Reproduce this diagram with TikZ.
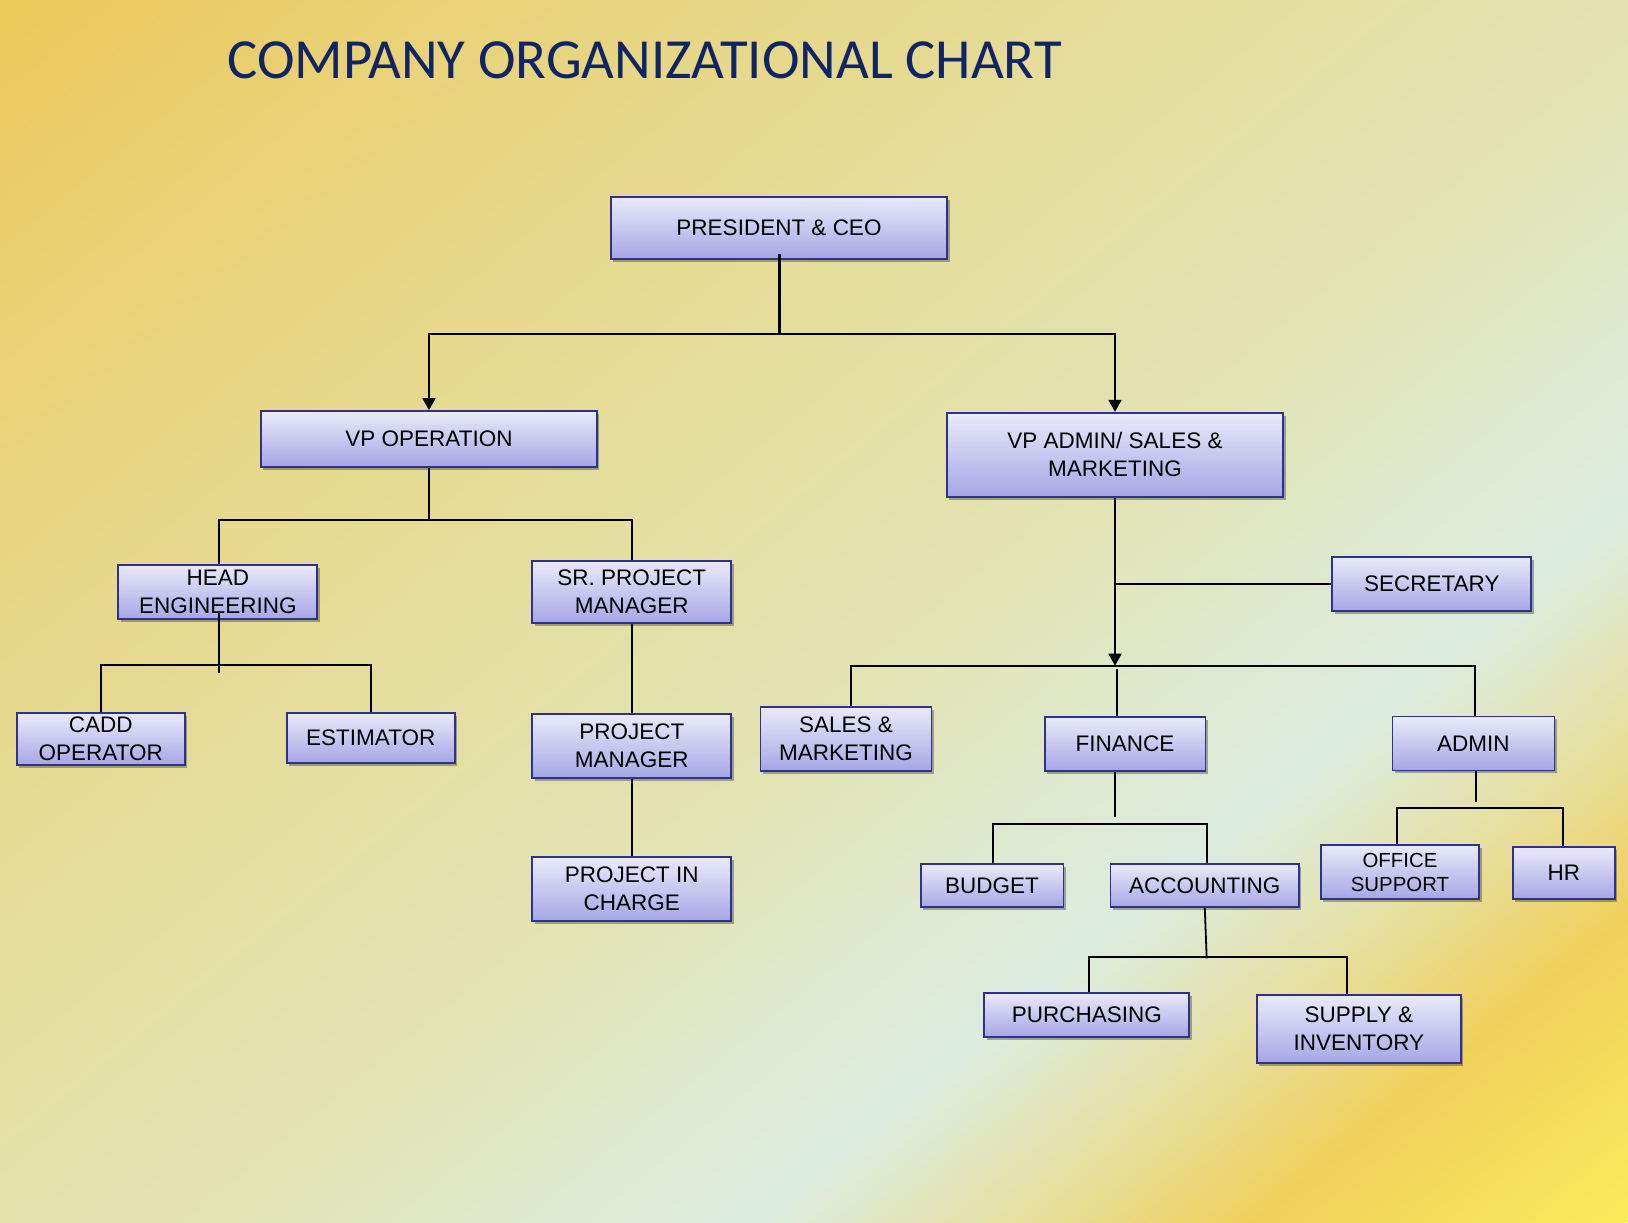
\documentclass[tikz,border=0pt]{standalone}
\usepackage{fontspec}
\setmainfont{Liberation Sans}
\newfontfamily\titlefont{Carlito}
\usetikzlibrary{arrows.meta,shadows}
\definecolor{bgA}{RGB}{237,200,88}
\definecolor{bgB}{RGB}{233,210,120}
\definecolor{bgC}{RGB}{229,220,152}
\definecolor{bgD}{RGB}{226,228,180}
\definecolor{bgE}{RGB}{220,236,224}
\definecolor{bgF}{RGB}{228,226,172}
\definecolor{bgG}{RGB}{240,208,92}
\definecolor{bgH}{RGB}{250,236,90}
\definecolor{titleblue}{RGB}{16,38,100}
\definecolor{boxblue}{RGB}{46,49,146}
\definecolor{boxtop}{RGB}{234,234,250}
\definecolor{boxbot}{RGB}{166,166,230}
\pgfdeclarehorizontalshading{bgshade}{100bp}{color(0bp)=(bgA); color(25bp)=(bgA); color(32.5bp)=(bgB); color(42.5bp)=(bgC); color(52.5bp)=(bgD); color(61bp)=(bgE); color(64.5bp)=(bgF); color(69bp)=(bgG); color(75bp)=(bgH); color(100bp)=(bgH)}
\tikzset{
  orgbox/.style={draw=boxblue, line width=0.9pt, top color=boxtop, bottom color=boxbot,
    align=center, inner sep=0pt, font=\fontsize{11.25}{14}\selectfont,
    drop shadow={shadow xshift=1.2pt, shadow yshift=-1.5pt, opacity=0.3, fill=black}},
  conn/.style={line width=0.9pt, black},
  trunk/.style={line width=1.5pt, black},
  arrowed/.style={-{Triangle[length=6pt,width=6.5pt]}}
}
\begin{document}
\begin{tikzpicture}[x=0.5pt,y=-0.5pt]
\useasboundingbox (0,0) rectangle (1628,1222);
\begin{scope}
\clip (0,0) rectangle (1628,1222);
\begin{scope}[transform canvas={shift={(814,611)},rotate=-50.8}]
\shade[shading=bgshade] (-494pt,-515pt) rectangle (494pt,515pt);
\end{scope}
\end{scope}

\node[anchor=base west, inner sep=0pt, text=titleblue, font=\titlefont\fontsize{28.35}{34}\selectfont] (title) at (227,78.3) {COMPANY ORGANIZATIONAL CHART};

% boxes
\node[orgbox, minimum width=168.3pt, minimum height=31pt] (ceo) at (779,227.7) {PRESIDENT \& CEO};
\node[orgbox, minimum width=168pt, minimum height=27.85pt] (vpop) at (429,438.9) {VP OPERATION};
\node[orgbox, minimum width=168.3pt, minimum height=42pt] (vpadm) at (1115,454.7) {VP ADMIN/ SALES \&\\MARKETING};
\node[orgbox, minimum width=99.5pt, minimum height=27.15pt] (head) at (217.8,591.9) {HEAD\\ENGINEERING};
\node[orgbox, minimum width=99.5pt, minimum height=31.15pt] (srpm) at (631.8,591.9) {SR. PROJECT\\MANAGER};
\node[orgbox, minimum width=99.5pt, minimum height=27.15pt] (sec) at (1431.8,583.9) {SECRETARY};
\node[orgbox, minimum width=84.15pt, minimum height=26.15pt] (cadd) at (100.8,738.9) {CADD\\OPERATOR};
\node[orgbox, minimum width=84.15pt, minimum height=25pt] (est) at (370.8,737.7) {ESTIMATOR};
\node[orgbox, minimum width=99.5pt, minimum height=31.7pt] (pm) at (631.8,746) {PROJECT\\MANAGER};
\node[orgbox, minimum width=85.5pt, minimum height=32.15pt] (sales) at (845.9,738.9) {SALES \&\\MARKETING};
\node[orgbox, minimum width=80.4pt, minimum height=27.15pt] (fin) at (1125,743.9) {FINANCE};
\node[orgbox, minimum width=81pt, minimum height=27pt] (adm) at (1473.4,743.4) {ADMIN};
\node[orgbox, minimum width=99.5pt, minimum height=32.15pt] (pic) at (631.8,888.9) {PROJECT IN\\CHARGE};
\node[orgbox, minimum width=71.4pt, minimum height=21.5pt] (bud) at (992,885.8) {BUDGET};
\node[orgbox, minimum width=94.25pt, minimum height=21.5pt] (acc) at (1204.8,885.8) {ACCOUNTING};
\node[orgbox, minimum width=79.3pt, minimum height=27pt, font=\fontsize{10.2}{12}\selectfont] (off) at (1400,872) {OFFICE\\SUPPORT};
\node[orgbox, minimum width=51.15pt, minimum height=26.15pt] (hr) at (1563.9,872.9) {HR};
\node[orgbox, minimum width=102.5pt, minimum height=22pt] (pur) at (1086.8,1014.7) {PURCHASING};
\node[orgbox, minimum width=102.15pt, minimum height=34.3pt] (sup) at (1358.9,1029) {SUPPLY \&\\INVENTORY};

% junction coordinates
\coordinate (jceo) at (779,334);
\coordinate (jop) at (429,520);
\coordinate (jhd) at (219,665);
\coordinate (jhdend) at (219,673.3);
\coordinate (jadm) at (1115,665.7);
\coordinate (cs) at (851,665.7);
\coordinate (ca) at (1475,665.7);
\coordinate (cf) at (1117,669);
\coordinate (cfb) at (1115,817.3);
\coordinate (cb) at (993,824.3);
\coordinate (cac) at (1207,824.3);
\coordinate (cab) at (1476,801.7);
\coordinate (co) at (1396.7,808.3);
\coordinate (ch) at (1563.3,808.3);
\coordinate (cacb) at (1206.7,958.3);
\coordinate (cp) at (1088.7,956.7);
\coordinate (csu) at (1347.3,956.7);

% connectors
\draw[trunk] ([yshift=2.8pt]ceo.south) -- (jceo);
\draw[conn,arrowed] (jceo) -| (vpop.north);
\draw[conn,arrowed] (jceo) -| (vpadm.north);

\draw[conn] (vpop.south) -- (jop);
\draw[conn] (head.north -| jhd) |- (jop);
\draw[conn] (srpm.north) |- (jop);

\draw[conn] ([yshift=3.6pt]head.south -| jhd) -- (jhdend);
\draw[conn] (cadd.north) |- (jhd) -| (est.north);

\draw[conn] (srpm.south) -- (pm.north);
\draw[conn] (pm.south) -- (pic.north);

\draw[conn,arrowed] (vpadm.south) -- (jadm);
\draw[conn] (vpadm.south |- sec.west) -- (sec.west);
\draw[conn] (cs |- sales.north) -- (cs) -- (ca) -- (ca |- adm.north);
\draw[conn] (cf) -- (cf |- fin.north);

\draw[conn] (fin.south -| cfb) -- (cfb);
\draw[conn] (cb |- bud.north) -- (cb) -- (cac) -- (cac |- acc.north);

\draw[conn] (adm.south -| cab) -- (cab);
\draw[conn] (co |- off.north) -- (co) -- (ch) -- (ch |- hr.north);

\draw[conn] (acc.south) -- (cacb);
\draw[conn] (cp |- pur.north) -- (cp) -- (csu) -- (csu |- sup.north);
\end{tikzpicture}
\end{document}
